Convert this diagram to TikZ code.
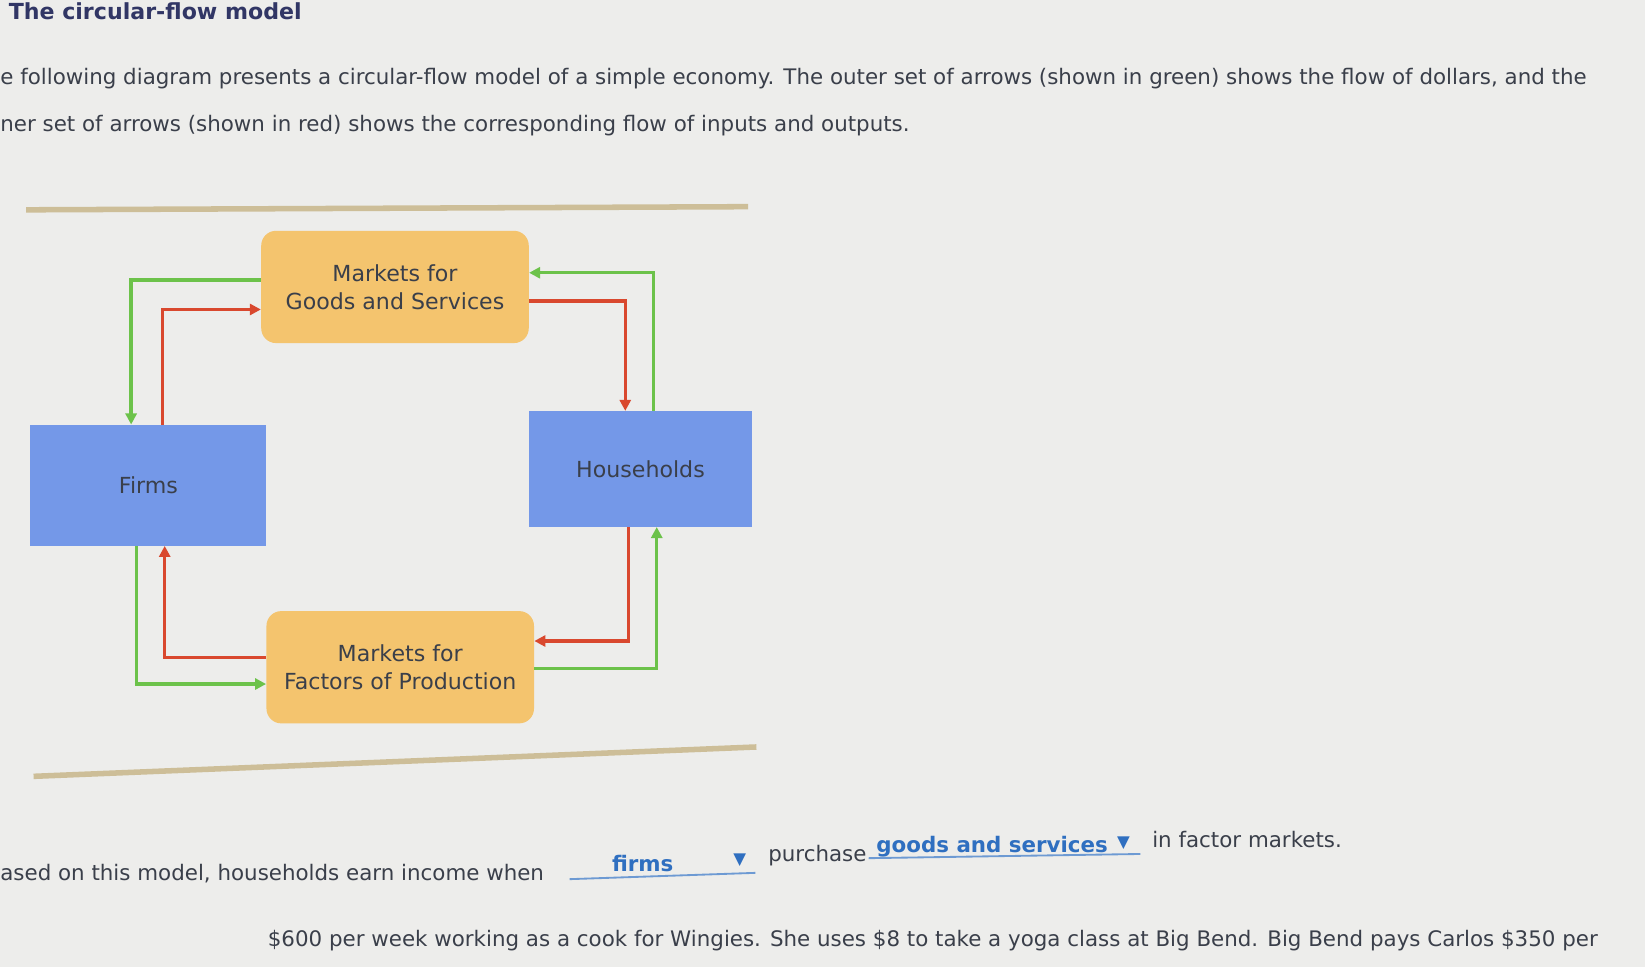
\documentclass[tikz,border=0pt]{standalone}
\usepackage{fontspec}
\setmainfont{DejaVu Sans}
\usetikzlibrary{arrows.meta}
\definecolor{bgc}{HTML}{EDEDEB}
\definecolor{boxo}{HTML}{F4C46E}
\definecolor{boxb}{HTML}{7498E8}
\definecolor{gr}{HTML}{6CC24A}
\definecolor{rd}{HTML}{D9482E}
\definecolor{tan}{HTML}{CDBE98}
\definecolor{txt}{HTML}{3A3F4A}
\definecolor{lnk}{HTML}{2F6FC0}
\tikzset{
 ob/.style={fill=boxo,rounded corners=8pt,minimum width=255*0.02cm,minimum height=107*0.02cm,align=center,text=txt,font=\fontsize{12}{15}\selectfont},
 bb/.style={fill=boxb,minimum height=115*0.02cm,text=txt,font=\fontsize{12}{15}\selectfont},
 ga/.style={draw=gr,line width=1.8pt,-{Triangle[length=6pt,width=6pt]}},
 ra/.style={draw=rd,line width=1.8pt,-{Triangle[length=6pt,width=6pt]}},
 tx/.style={anchor=west,text=txt,font=\fontsize{11.6}{14}\selectfont,inner sep=0pt},
}
\begin{document}
\begin{tikzpicture}[x=0.02cm,y=-0.02cm]
\useasboundingbox[fill=bgc] (0,0) rectangle (1568,922);
\node[tx,font=\fontsize{12}{14}\selectfont\bfseries,text=txt!85!blue] (title) at (8,11) {The circular-flow model};
\node[tx] (p1) at (0,75) {e following diagram presents a circular-flow model of a simple economy. The outer set of arrows (shown in green) shows the flow of dollars, and the};
\node[tx] (p2) at (0,120) {ner set of arrows (shown in red) shows the corresponding flow of inputs and outputs.};
\draw[tan,line width=3pt] (25,200) -- (713,197);
\draw[tan,line width=3pt] (32,740) -- (721,712);
\node[ob] (goods) at (376.5,273.5) {Markets for\\Goods and Services};
\node[ob] (fact) at (381.5,636) {Markets for\\Factors of Production};
\node[bb,minimum width=225*0.02cm] (firms) at (141.5,462.5) {Firms};
\node[bb,minimum width=213*0.02cm,minimum height=110*0.02cm] (hh) at (610.5,447) {Households};
\coordinate (y1) at (0,267); \coordinate (x1) at (125,0);
\coordinate (y2) at (0,260); \coordinate (x2) at (623,0);
\coordinate (y3) at (0,652); \coordinate (x3) at (130,0);
\coordinate (y4) at (0,637); \coordinate (x4) at (626,0);
\coordinate (y5) at (0,295); \coordinate (x5) at (155,0);
\coordinate (y6) at (0,287); \coordinate (x6) at (596,0);
\coordinate (y7) at (0,611); \coordinate (x7) at (599,0);
\coordinate (y8) at (0,627); \coordinate (x8) at (157,0);
\draw[ga] (goods.west|-y1) -| (firms.north-|x1);
\draw[ga] (hh.north-|x2) |- (goods.east|-y2);
\draw[ga] (firms.south-|x3) |- (fact.west|-y3);
\draw[ga] (fact.east|-y4) -| (hh.south-|x4);
\draw[ra] (firms.north-|x5) |- (goods.west|-y5);
\draw[ra] (goods.east|-y6) -| (hh.north-|x6);
\draw[ra] (hh.south-|x7) |- (fact.east|-y7);
\draw[ra] (fact.west|-y8) -| (firms.south-|x8);
\node[tx] (q1) at (0,833) {ased on this model, households earn income when};
\draw[lnk!70,line width=1pt] (543,838) -- (720,832);
\node[tx,text=lnk,font=\fontsize{11.6}{14}\selectfont\bfseries] (f) at (583,823) {firms};
\node[text=lnk,font=\fontsize{9}{10}\selectfont] (t1) at (705,820) {▼};
\node[tx] (pu) at (732,816) {purchase};
\draw[lnk!70,line width=1pt] (828,818) -- (1087,814);
\node[tx,text=lnk,font=\fontsize{11.6}{14}\selectfont\bfseries] (gs) at (835,807) {goods and services};
\node[text=lnk,font=\fontsize{9}{10}\selectfont] (t2) at (1071,804) {▼};
\node[tx] (fm) at (1098,800) {in factor markets.};
\node[tx] (q2) at (255,897) {\$600 per week working as a cook for Wingies. She uses \$8 to take a yoga class at Big Bend. Big Bend pays Carlos \$350 per};
\end{tikzpicture}
\end{document}
